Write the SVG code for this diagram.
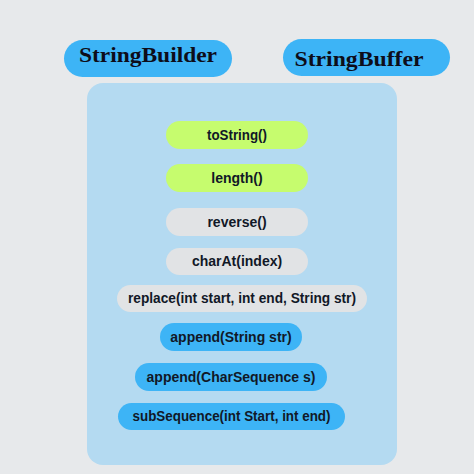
<svg xmlns="http://www.w3.org/2000/svg" width="474" height="474" viewBox="0 0 474 474">
<style>
.title{font-family:"Liberation Serif",serif;font-weight:bold;font-size:22px;fill:#0d0d1a;text-anchor:middle}
.lbl{font-family:"Liberation Sans",Arial,sans-serif;font-weight:bold;font-size:14px;fill:#111827;text-anchor:middle}
.blue{fill:#3db4f6}
.lime{fill:#c6fc6e}
.gray{fill:#e1e3e5}
</style>
<rect width="474" height="474" fill="#e7e9eb"/>
<g id="stringbuilder"><rect class="blue" x="64" y="40" width="168" height="37" rx="18.5"/><text class="title" x="148" y="62" textLength="138" lengthAdjust="spacingAndGlyphs">StringBuilder</text></g>
<g id="stringbuffer"><rect class="blue" x="283" y="39" width="167" height="37" rx="18.5"/><text class="title" x="359" y="66" textLength="129" lengthAdjust="spacingAndGlyphs">StringBuffer</text></g>
<g id="panel"><rect x="87" y="83" width="310" height="382" rx="16" fill="#b4daf1"/></g>
<g id="connectors"/>
<g id="tostring"><rect class="lime" x="166" y="121" width="142" height="28" rx="14"/><text class="lbl" x="237" y="140" textLength="60" lengthAdjust="spacingAndGlyphs">toString()</text></g>
<g id="length"><rect class="lime" x="166" y="164" width="142" height="28" rx="14"/><text class="lbl" x="237" y="183">length()</text></g>
<g id="reverse"><rect class="gray" x="166" y="208" width="142" height="28" rx="14"/><text class="lbl" x="237" y="227">reverse()</text></g>
<g id="charat"><rect class="gray" x="166" y="248" width="142" height="27" rx="13.5"/><text class="lbl" x="237" y="266">charAt(index)</text></g>
<g id="replace"><rect class="gray" x="117" y="285" width="250" height="27" rx="13.5"/><text class="lbl" x="242" y="303" textLength="228" lengthAdjust="spacingAndGlyphs">replace(int start, int end, String str)</text></g>
<g id="append-string"><rect class="blue" x="160" y="323" width="142" height="28" rx="14"/><text class="lbl" x="231" y="342">append(String str)</text></g>
<g id="append-charseq"><rect class="blue" x="135" y="363" width="192" height="28" rx="14"/><text class="lbl" x="231" y="382">append(CharSequence s)</text></g>
<g id="subsequence"><rect class="blue" x="118" y="403" width="227" height="27" rx="13.5"/><text class="lbl" x="231.5" y="421" textLength="198" lengthAdjust="spacingAndGlyphs">subSequence(int Start, int end)</text></g>
</svg>
